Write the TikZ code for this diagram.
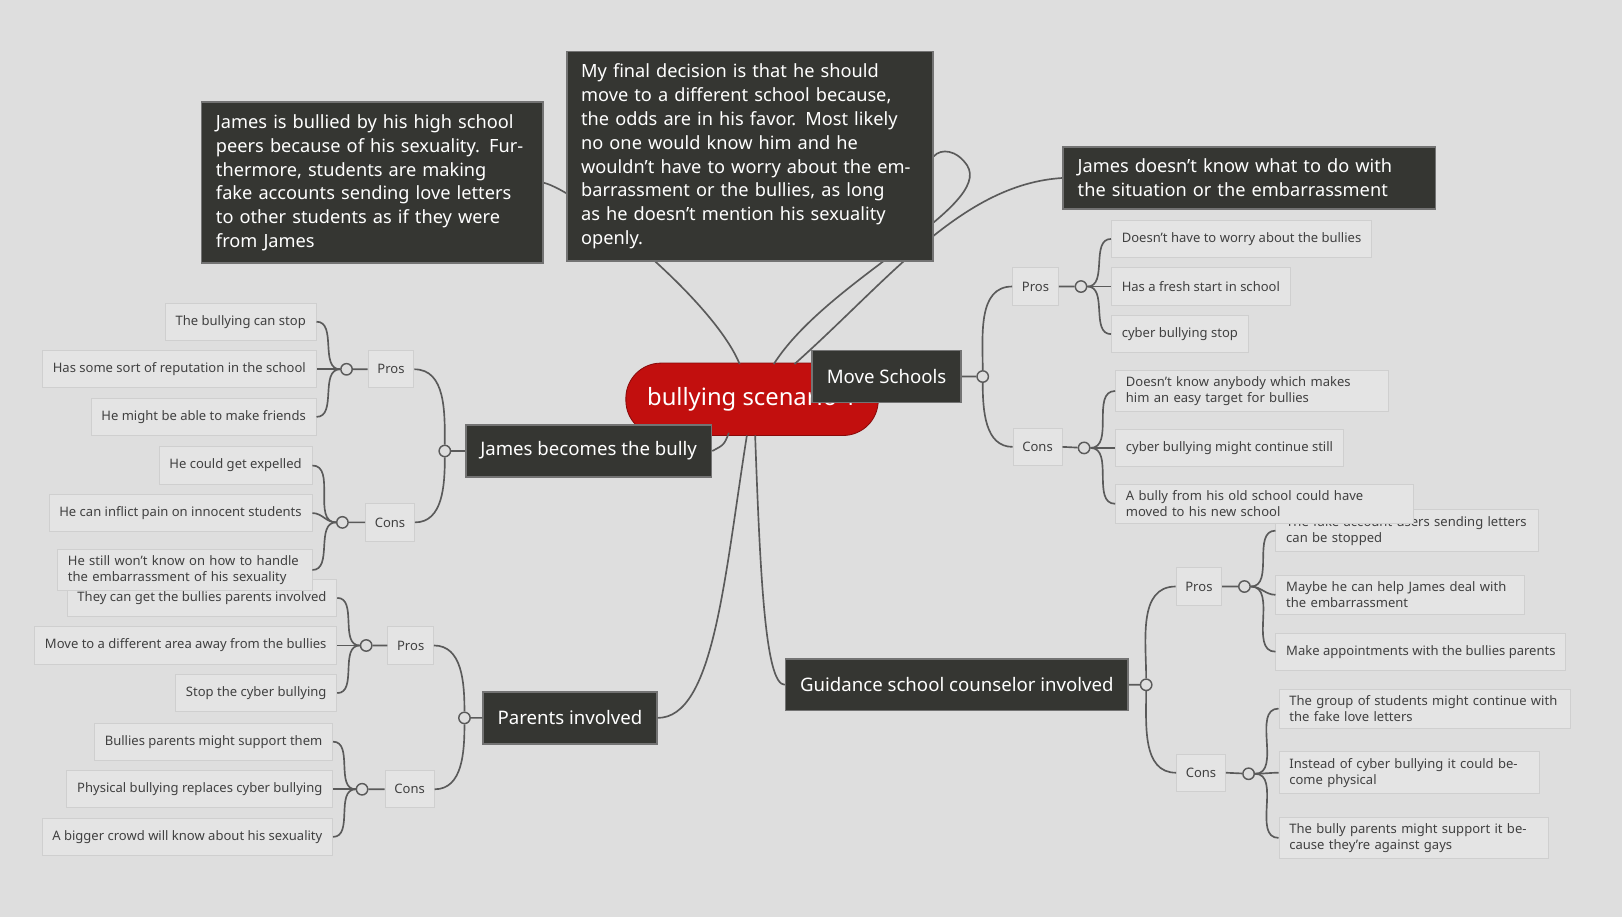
\documentclass[tikz,border=0pt]{standalone}
\usepackage{fontspec}
\setmainfont{Noto Sans}
\definecolor{bg}{HTML}{DEDEDE}
\definecolor{dark}{HTML}{353632}
\definecolor{leaff}{HTML}{E4E4E4}
\definecolor{leafb}{HTML}{CFCFCF}
\definecolor{ln}{HTML}{5A5A5A}
\definecolor{rootc}{HTML}{C20F0E}
\begin{document}
\begin{tikzpicture}[x=0.5pt,y=-0.5pt,
  mainn/.style={draw=black!55,line width=0.8pt,fill=dark,text=white,font=\fontsize{9}{11}\selectfont,minimum height=25pt,inner xsep=7pt},
  bigbox/.style={draw=black!55,line width=0.8pt,fill=dark,text=white,font=\fontsize{8.8}{11.5}\selectfont,align=left,inner xsep=7pt,inner ysep=6pt},
  leaf/.style={draw=leafb,fill=leaff,text=black!75,font=\fontsize{6.3}{7.8}\selectfont,minimum height=18pt,inner xsep=5pt,inner ysep=3pt,align=left},
  pc/.style={leaf,inner xsep=4.5pt},
  dot/.style={circle,draw=ln,fill=bg,line width=0.7pt,minimum size=5.5pt,inner sep=0pt},
  con/.style={draw=ln,line width=0.8pt}]
\fill[bg] (0,0) rectangle (1568,886);
\useasboundingbox (0,0) rectangle (1568,886);
% root
\node[draw=rootc!70!black,fill=rootc,text=white,rounded corners=17pt,minimum width=122pt,minimum height=35pt,font=\fontsize{11.5}{13}\selectfont] (root) at (727,386) {bullying scenario 1};
% big boxes
\node[bigbox,anchor=north west,text width=151pt] (A) at (194,98) {James is bullied by his high school peers because of his sexuality. Furthermore, students are making fake accounts sending love letters to other students as if they were from James};
\node[bigbox,anchor=north west,text width=163pt] (B) at (547,49) {My final decision is that he should move to a different school because, the odds are in his favor. Most likely no one would know him and he wouldn't have to worry about the embarrassment or the bullies, as long as he doesn't mention his sexuality openly.};
\node[bigbox,anchor=north west,text width=166pt] (C) at (1027,141) {James doesn't know what to do with the situation or the embarrassment};
\begin{scope}[on background layer/.style={}]
\end{scope}
% connectors to big boxes (drawn before boxes visually: redraw boxes after)
\path[con] (715,352) .. controls (690,290) and (560,185) .. (A.east);
\path[con] (748,352) .. controls (800,270) and (960,200) .. (935,160) .. controls (925,145) and (910,143) .. (B.east);
\path[con] (768,352) .. controls (860,270) and (930,178) .. (C.west);
\node[bigbox,anchor=north west,text width=151pt] at (194,98) {James is bullied by his high school peers because of his sexuality. Furthermore, students are making fake accounts sending love letters to other students as if they were from James};
\node[bigbox,anchor=north west,text width=163pt] at (547,49) {My final decision is that he should move to a different school because, the odds are in his favor. Most likely no one would know him and he wouldn't have to worry about the embarrassment or the bullies, as long as he doesn't mention his sexuality openly.};
\node[bigbox,anchor=north west,text width=166pt] at (1027,141) {James doesn't know what to do with the situation or the embarrassment};
% main nodes
\node[mainn] (bully) at (569,436) {James becomes the bully};
\node[mainn] (par) at (551,694) {Parents involved};
\node[mainn] (gui) at (925,662) {Guidance school counselor involved};
\path[con] (root.south west) ++(100,-3) .. controls (700,430) .. (bully.east);
\path[con] (722,421) .. controls (700,560) and (690,694) .. (par.east);
\path[con] (730,421) .. controls (735,560) and (740,662) .. (gui.west);
% Guidance
\node[dot] (gd) at (1108,662) {};
\node[pc] (gp) at (1159,567) {Pros};
\node[pc] (gc) at (1161,747) {Cons};
\node[dot] (gpd) at (1203,567) {};
\node[dot] (gcd) at (1207,748) {};
\path[con] (gui.east)--(gd) (gd) to[out=90,in=180] (gp.west) (gd) to[out=-90,in=180] (gc.west) (gp.east)--(gpd) (gc.east)--(gcd);
\node[leaf,anchor=west,text width=117pt] (g1) at (1233,513) {The fake account users sending letters can be stopped};
\node[leaf,anchor=west,text width=110pt] (g2) at (1233,575) {Maybe he can help James deal with the embarrassment};
\node[leaf,anchor=west] (g3) at (1233,630) {Make appointments with the bullies parents};
\node[leaf,anchor=west,text width=131pt] (g4) at (1236,685) {The group of students might continue with the fake love letters};
\node[leaf,anchor=west,text width=116pt] (g5) at (1236,747) {Instead of cyber bullying it could become physical};
\node[leaf,anchor=west,text width=120pt] (g6) at (1236,810) {The bully parents might support it because they're against gays};
\foreach \n in {g1,g2,g3}{\path[con] (gpd) to[out=0,in=180] (\n.west);}
\foreach \n in {g4,g5,g6}{\path[con] (gcd) to[out=0,in=180] (\n.west);}
% Move schools
\node[mainn] (move) at (857,364) {Move Schools};
\node[dot] (md) at (950,364) {};
\node[pc] (mp) at (1001,277) {Pros};
\node[pc] (mc) at (1003,432) {Cons};
\node[dot] (mpd) at (1045,277) {};
\node[dot] (mcd) at (1048,433) {};
\path[con] (move.east)--(md) (md) to[out=90,in=180] (mp.west) (md) to[out=-90,in=180] (mc.west) (mp.east)--(mpd) (mc.east)--(mcd);
\node[leaf,anchor=west] (m1) at (1074,231) {Doesn't have to worry about the bullies};
\node[leaf,anchor=west] (m2) at (1074,277) {Has a fresh start in school};
\node[leaf,anchor=west] (m3) at (1074,323) {cyber bullying stop};
\node[leaf,anchor=west,text width=122pt] (m4) at (1078,378) {Doesn't know anybody which makes him an easy target for bullies};
\node[leaf,anchor=west] (m5) at (1078,433) {cyber bullying might continue still};
\node[leaf,anchor=west,text width=134pt] (m6) at (1078,487) {A bully from his old school could have moved to his new school};
\foreach \n in {m1,m2,m3}{\path[con] (mpd) to[out=0,in=180] (\n.west);}
\foreach \n in {m4,m5,m6}{\path[con] (mcd) to[out=0,in=180] (\n.west);}
% Parents
\node[dot] (pd) at (449,694) {};
\node[pc] (pp) at (397,624) {Pros};
\node[pc] (pcn) at (396,763) {Cons};
\node[dot] (ppd) at (354,624) {};
\node[dot] (pcd) at (350,763) {};
\path[con] (par.west)--(pd) (pd) to[out=90,in=0] (pp.east) (pd) to[out=-90,in=0] (pcn.east) (pp.west)--(ppd) (pcn.west)--(pcd);
\node[leaf,anchor=east] (p1) at (326,578) {They can get the bullies parents involved};
\node[leaf,anchor=east] (p2) at (326,624) {Move to a different area away from the bullies};
\node[leaf,anchor=east] (p3) at (326,670) {Stop the cyber bullying};
\node[leaf,anchor=east] (p4) at (322,717) {Bullies parents might support them};
\node[leaf,anchor=east] (p5) at (322,763) {Physical bullying replaces cyber bullying};
\node[leaf,anchor=east] (p6) at (322,809) {A bigger crowd will know about his sexuality};
\foreach \n in {p1,p2,p3}{\path[con] (ppd) to[out=180,in=0] (\n.east);}
\foreach \n in {p4,p5,p6}{\path[con] (pcd) to[out=180,in=0] (\n.east);}
% Bully
\node[dot] (bd) at (430,436) {};
\node[pc] (bp) at (378,357) {Pros};
\node[pc] (bc) at (377,505) {Cons};
\node[dot] (bpd) at (335,357) {};
\node[dot] (bcd) at (331,505) {};
\path[con] (bully.west)--(bd) (bd) to[out=90,in=0] (bp.east) (bd) to[out=-90,in=0] (bc.east) (bp.west)--(bpd) (bc.west)--(bcd);
\node[leaf,anchor=east] (b1) at (306,311) {The bullying can stop};
\node[leaf,anchor=east] (b2) at (306,357) {Has some sort of reputation in the school};
\node[leaf,anchor=east] (b3) at (306,403) {He might be able to make friends};
\node[leaf,anchor=east] (b4) at (302,450) {He could get expelled};
\node[leaf,anchor=east] (b5) at (302,496) {He can inflict pain on innocent students};
\node[leaf,anchor=east,text width=113pt] (b6) at (302,551) {He still won't know on how to handle the embarrassment of his sexuality};
\foreach \n in {b1,b2,b3}{\path[con] (bpd) to[out=180,in=0] (\n.east);}
\foreach \n in {b4,b5,b6}{\path[con] (bcd) to[out=180,in=0] (\n.east);}
% redraw main nodes on top of root
\node[mainn] at (857,364) {Move Schools};
\node[mainn] at (569,436) {James becomes the bully};
\end{tikzpicture}
\end{document}
